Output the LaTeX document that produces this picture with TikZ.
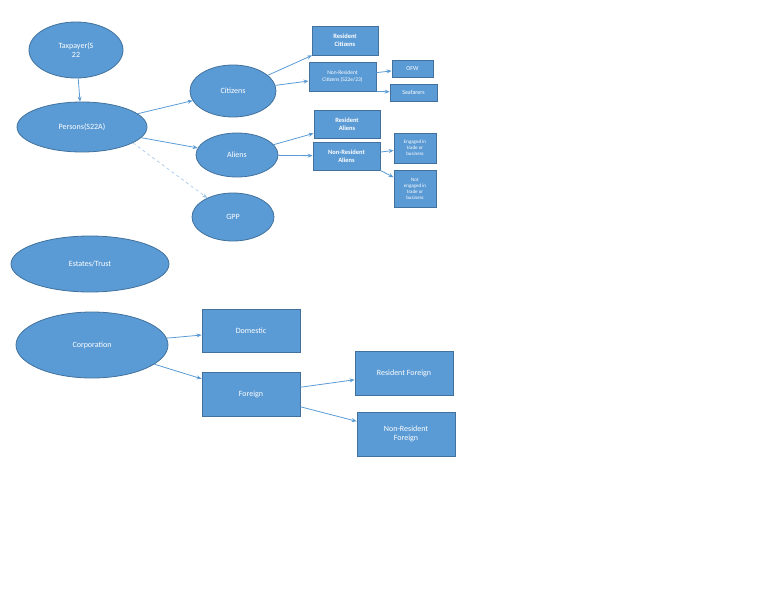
\documentclass[tikz,border=0pt]{standalone}
\usepackage{fontspec}
\setmainfont{Carlito}
\usetikzlibrary{shapes.geometric,arrows.meta}
\definecolor{bfill}{HTML}{5B9BD5}
\definecolor{bline}{HTML}{41719C}
\begin{document}
\begin{tikzpicture}[x=1pt,y=-1pt,
 ell/.style={ellipse,draw=bline,fill=bfill,text=white,font=\fontsize{8}{9}\selectfont,align=center,inner sep=0pt,line width=0.8pt},
 box/.style={rectangle,draw=bline,fill=bfill,text=white,font=\fontsize{8}{9}\selectfont,align=center,inner sep=1pt,line width=0.8pt},
 sbox/.style={box,font=\fontsize{5}{6}\selectfont},
 con/.style={draw=bfill,line width=0.8pt,-{Stealth[length=5pt,width=4pt]}}]
\useasboundingbox (0,0) rectangle (768,594);
\node[ell,minimum width=94,minimum height=56] (tax) at (76,50) {Taxpayer(S\\22};
\node[ell,minimum width=130,minimum height=50] (per) at (82,127) {Persons(S22A)};
\node[ell,minimum width=86,minimum height=52] (cit) at (233,91) {Citizens};
\node[ell,minimum width=82,minimum height=44] (ali) at (237,155) {Aliens};
\node[ell,minimum width=82,minimum height=48] (gpp) at (233,217) {GPP};
\node[ell,minimum width=158,minimum height=56] (est) at (90,264) {Estates/Trust};
\node[ell,minimum width=152,minimum height=66] (cor) at (92,345) {Corporation};
\node[box,font=\fontsize{6.5}{8}\selectfont\bfseries,minimum width=66,minimum height=29] (rc) at (345,40.5) {Resident\\Citizens};
\node[sbox,font=\fontsize{5.5}{7}\selectfont,minimum width=67,minimum height=29] (nrc) at (342.5,76.5) {Non-Resident\\Citizens (S22e/23)};
\node[box,font=\fontsize{6}{7}\selectfont,minimum width=41,minimum height=17] (ofw) at (412.5,68.5) {OFW};
\node[box,font=\fontsize{6}{7}\selectfont,minimum width=47,minimum height=17] (sea) at (413.5,92.5) {Seafarers};
\node[box,font=\fontsize{6.5}{8}\selectfont\bfseries,minimum width=66,minimum height=28] (ra) at (347,124) {Resident\\Aliens};
\node[box,font=\fontsize{6.5}{8}\selectfont\bfseries,minimum width=67,minimum height=28] (nra) at (346.5,156) {Non-Resident\\Aliens};
\node[sbox,minimum width=42,minimum height=30] (eng) at (415,148) {Engaged in\\trade or\\business};
\node[sbox,minimum width=42,minimum height=37] (neng) at (415,188.5) {Not\\engaged in\\trade or\\business};
\node[box,minimum width=98,minimum height=43] (dom) at (251,330.5) {Domestic};
\node[box,minimum width=98,minimum height=44] (for) at (251,394) {Foreign};
\node[box,minimum width=98,minimum height=44] (rf) at (404,373) {Resident Foreign};
\node[box,minimum width=98,minimum height=44] (nrf) at (406,434) {Non-Resident\\Foreign};
\draw[con] (tax) -- (per);
\draw[con] (per) -- (cit);
\draw[con] (per) -- (ali);
\draw[draw=bfill!60,line width=0.6pt,dashed,-{Stealth[length=5pt,width=4pt]}] (133,143) -- (gpp);
\draw[con] (cit) -- (rc);
\draw[con] (cit) -- (nrc);
\draw[con] (nrc) -- (ofw);
\draw[con] (nrc.south east) -- (sea);
\draw[con] (ali) -- (ra);
\draw[con] (ali) -- (nra);
\draw[con] (nra) -- (eng);
\draw[con] (nra.south east) -- (neng);
\draw[con] (cor) -- (dom);
\draw[con] (cor) -- (for);
\draw[con] (for) -- (rf);
\draw[con] (for) -- (nrf);
\end{tikzpicture}
\end{document}
